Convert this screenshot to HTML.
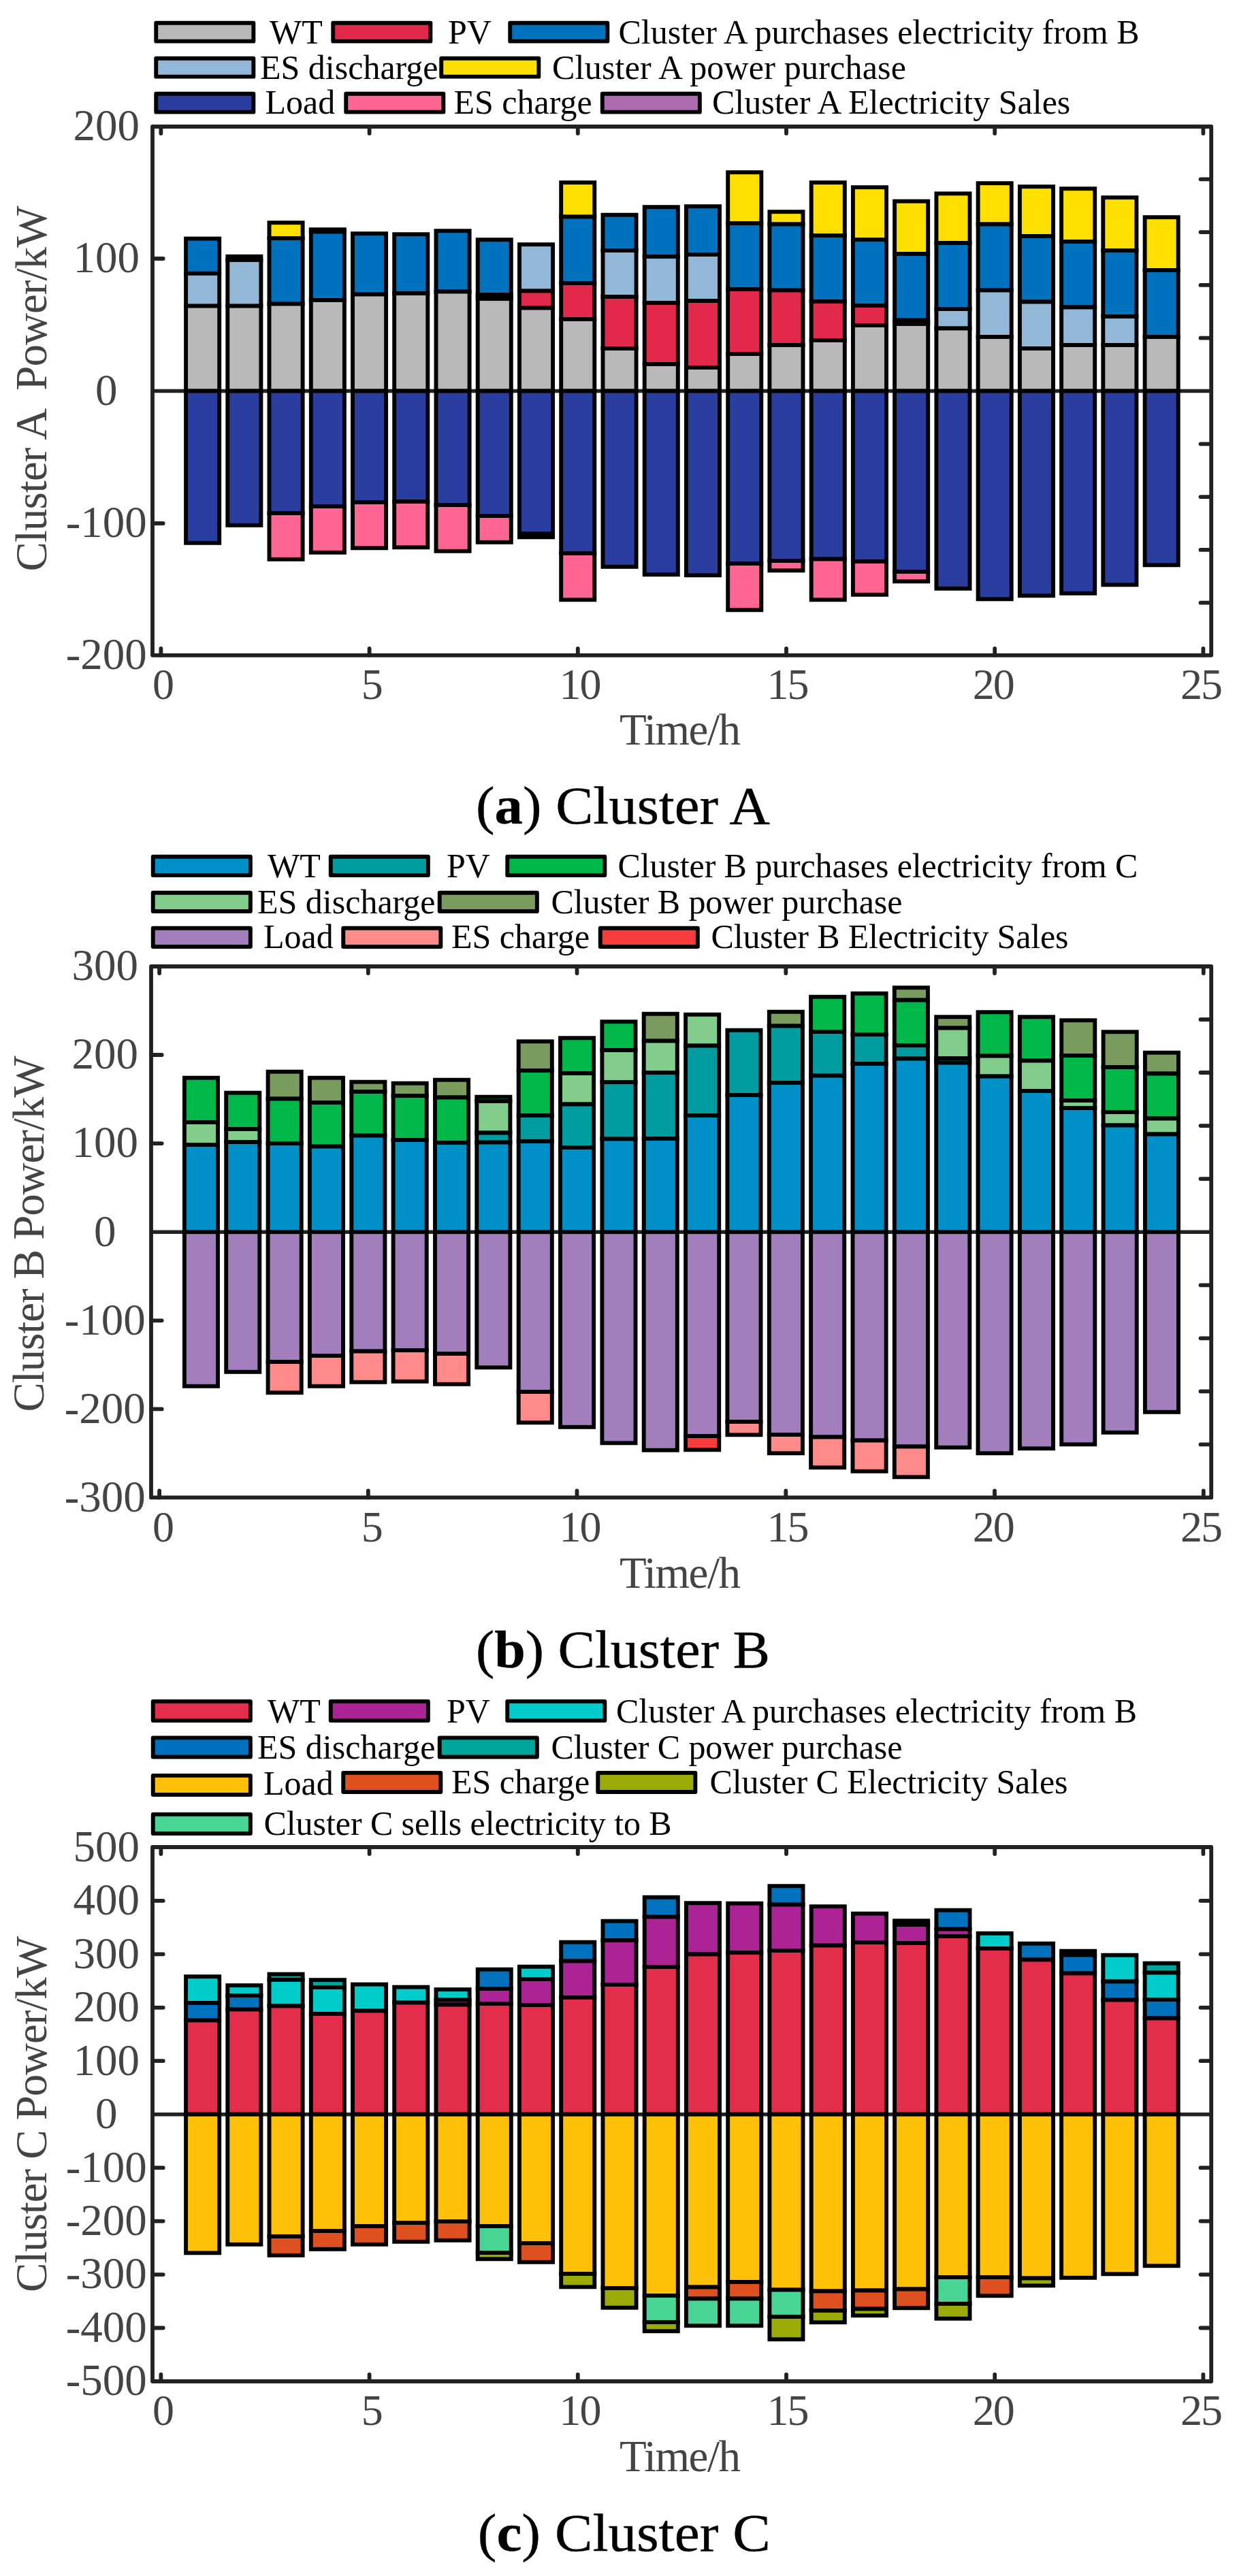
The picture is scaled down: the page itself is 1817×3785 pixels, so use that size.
<!DOCTYPE html>
<html><head><meta charset="utf-8"><title>Cluster power balance</title>
<style>html,body{margin:0;padding:0;background:#fff}svg{display:block}</style></head>
<body>
<svg width="1817" height="3785" viewBox="0 0 1817 3785" font-family="'Liberation Serif', 'Times New Roman', serif">
<rect width="1817" height="3785" fill="#fff"/>
<line x1="224" y1="574.5" x2="1779.2" y2="574.5" stroke="#222222" stroke-width="5.6"/>
<rect x="273.1" y="350.6" width="49.1" height="51.2" fill="#0072BD" stroke="#000" stroke-width="5.9"/>
<rect x="273.1" y="401.8" width="49.1" height="47.8" fill="#93B7D7" stroke="#000" stroke-width="5.9"/>
<rect x="273.1" y="449.6" width="49.1" height="124.9" fill="#B9B9B9" stroke="#000" stroke-width="5.9"/>
<rect x="273.1" y="574.5" width="49.1" height="223.3" fill="#293E9E" stroke="#000" stroke-width="5.9"/>
<rect x="334.3" y="376.8" width="49.1" height="5.2" fill="#0072BD" stroke="#000" stroke-width="5.9"/>
<rect x="334.3" y="382.0" width="49.1" height="67.6" fill="#93B7D7" stroke="#000" stroke-width="5.9"/>
<rect x="334.3" y="449.6" width="49.1" height="124.9" fill="#B9B9B9" stroke="#000" stroke-width="5.9"/>
<rect x="334.3" y="574.5" width="49.1" height="197.3" fill="#293E9E" stroke="#000" stroke-width="5.9"/>
<rect x="395.5" y="327.2" width="49.1" height="22.8" fill="#FFDF00" stroke="#000" stroke-width="5.9"/>
<rect x="395.5" y="350.0" width="49.1" height="96.5" fill="#0072BD" stroke="#000" stroke-width="5.9"/>
<rect x="395.5" y="446.5" width="49.1" height="128.0" fill="#B9B9B9" stroke="#000" stroke-width="5.9"/>
<rect x="395.5" y="574.5" width="49.1" height="179.5" fill="#293E9E" stroke="#000" stroke-width="5.9"/>
<rect x="395.5" y="754.0" width="49.1" height="67.8" fill="#FF6694" stroke="#000" stroke-width="5.9"/>
<rect x="456.8" y="337.2" width="49.1" height="3.3" fill="#FFDF00" stroke="#000" stroke-width="5.9"/>
<rect x="456.8" y="340.5" width="49.1" height="100.5" fill="#0072BD" stroke="#000" stroke-width="5.9"/>
<rect x="456.8" y="441.0" width="49.1" height="133.5" fill="#B9B9B9" stroke="#000" stroke-width="5.9"/>
<rect x="456.8" y="574.5" width="49.1" height="169.5" fill="#293E9E" stroke="#000" stroke-width="5.9"/>
<rect x="456.8" y="744.0" width="49.1" height="67.8" fill="#FF6694" stroke="#000" stroke-width="5.9"/>
<rect x="518.0" y="343.2" width="49.1" height="89.3" fill="#0072BD" stroke="#000" stroke-width="5.9"/>
<rect x="518.0" y="432.5" width="49.1" height="142.0" fill="#B9B9B9" stroke="#000" stroke-width="5.9"/>
<rect x="518.0" y="574.5" width="49.1" height="163.5" fill="#293E9E" stroke="#000" stroke-width="5.9"/>
<rect x="518.0" y="738.0" width="49.1" height="67.3" fill="#FF6694" stroke="#000" stroke-width="5.9"/>
<rect x="579.2" y="344.2" width="49.1" height="86.8" fill="#0072BD" stroke="#000" stroke-width="5.9"/>
<rect x="579.2" y="431.0" width="49.1" height="143.5" fill="#B9B9B9" stroke="#000" stroke-width="5.9"/>
<rect x="579.2" y="574.5" width="49.1" height="162.5" fill="#293E9E" stroke="#000" stroke-width="5.9"/>
<rect x="579.2" y="737.0" width="49.1" height="67.3" fill="#FF6694" stroke="#000" stroke-width="5.9"/>
<rect x="640.5" y="339.2" width="49.1" height="89.3" fill="#0072BD" stroke="#000" stroke-width="5.9"/>
<rect x="640.5" y="428.5" width="49.1" height="146.0" fill="#B9B9B9" stroke="#000" stroke-width="5.9"/>
<rect x="640.5" y="574.5" width="49.1" height="167.5" fill="#293E9E" stroke="#000" stroke-width="5.9"/>
<rect x="640.5" y="742.0" width="49.1" height="67.8" fill="#FF6694" stroke="#000" stroke-width="5.9"/>
<rect x="701.7" y="352.2" width="49.1" height="80.8" fill="#0072BD" stroke="#000" stroke-width="5.9"/>
<rect x="701.7" y="433.0" width="49.1" height="6.0" fill="#E2294B" stroke="#000" stroke-width="5.9"/>
<rect x="701.7" y="439.0" width="49.1" height="135.5" fill="#B9B9B9" stroke="#000" stroke-width="5.9"/>
<rect x="701.7" y="574.5" width="49.1" height="183.5" fill="#293E9E" stroke="#000" stroke-width="5.9"/>
<rect x="701.7" y="758.0" width="49.1" height="38.8" fill="#FF6694" stroke="#000" stroke-width="5.9"/>
<rect x="763.0" y="359.2" width="49.1" height="68.3" fill="#93B7D7" stroke="#000" stroke-width="5.9"/>
<rect x="763.0" y="427.5" width="49.1" height="25.0" fill="#E2294B" stroke="#000" stroke-width="5.9"/>
<rect x="763.0" y="452.5" width="49.1" height="122.0" fill="#B9B9B9" stroke="#000" stroke-width="5.9"/>
<rect x="763.0" y="574.5" width="49.1" height="209.5" fill="#293E9E" stroke="#000" stroke-width="5.9"/>
<rect x="763.0" y="784.0" width="49.1" height="5.3" fill="#FF6694" stroke="#000" stroke-width="5.9"/>
<rect x="824.2" y="268.2" width="49.1" height="50.3" fill="#FFDF00" stroke="#000" stroke-width="5.9"/>
<rect x="824.2" y="318.5" width="49.1" height="97.5" fill="#0072BD" stroke="#000" stroke-width="5.9"/>
<rect x="824.2" y="416.0" width="49.1" height="53.0" fill="#E2294B" stroke="#000" stroke-width="5.9"/>
<rect x="824.2" y="469.0" width="49.1" height="105.5" fill="#B9B9B9" stroke="#000" stroke-width="5.9"/>
<rect x="824.2" y="574.5" width="49.1" height="238.5" fill="#293E9E" stroke="#000" stroke-width="5.9"/>
<rect x="824.2" y="813.0" width="49.1" height="68.3" fill="#FF6694" stroke="#000" stroke-width="5.9"/>
<rect x="885.5" y="315.7" width="49.1" height="52.3" fill="#0072BD" stroke="#000" stroke-width="5.9"/>
<rect x="885.5" y="368.0" width="49.1" height="68.0" fill="#93B7D7" stroke="#000" stroke-width="5.9"/>
<rect x="885.5" y="436.0" width="49.1" height="76.0" fill="#E2294B" stroke="#000" stroke-width="5.9"/>
<rect x="885.5" y="512.0" width="49.1" height="62.5" fill="#B9B9B9" stroke="#000" stroke-width="5.9"/>
<rect x="885.5" y="574.5" width="49.1" height="258.3" fill="#293E9E" stroke="#000" stroke-width="5.9"/>
<rect x="946.7" y="304.2" width="49.1" height="72.8" fill="#0072BD" stroke="#000" stroke-width="5.9"/>
<rect x="946.7" y="377.0" width="49.1" height="68.0" fill="#93B7D7" stroke="#000" stroke-width="5.9"/>
<rect x="946.7" y="445.0" width="49.1" height="90.0" fill="#E2294B" stroke="#000" stroke-width="5.9"/>
<rect x="946.7" y="535.0" width="49.1" height="39.5" fill="#B9B9B9" stroke="#000" stroke-width="5.9"/>
<rect x="946.7" y="574.5" width="49.1" height="269.8" fill="#293E9E" stroke="#000" stroke-width="5.9"/>
<rect x="1007.9" y="303.2" width="49.1" height="70.8" fill="#0072BD" stroke="#000" stroke-width="5.9"/>
<rect x="1007.9" y="374.0" width="49.1" height="68.0" fill="#93B7D7" stroke="#000" stroke-width="5.9"/>
<rect x="1007.9" y="442.0" width="49.1" height="98.0" fill="#E2294B" stroke="#000" stroke-width="5.9"/>
<rect x="1007.9" y="540.0" width="49.1" height="34.5" fill="#B9B9B9" stroke="#000" stroke-width="5.9"/>
<rect x="1007.9" y="574.5" width="49.1" height="270.8" fill="#293E9E" stroke="#000" stroke-width="5.9"/>
<rect x="1069.2" y="253.2" width="49.1" height="74.8" fill="#FFDF00" stroke="#000" stroke-width="5.9"/>
<rect x="1069.2" y="328.0" width="49.1" height="97.0" fill="#0072BD" stroke="#000" stroke-width="5.9"/>
<rect x="1069.2" y="425.0" width="49.1" height="95.0" fill="#E2294B" stroke="#000" stroke-width="5.9"/>
<rect x="1069.2" y="520.0" width="49.1" height="54.5" fill="#B9B9B9" stroke="#000" stroke-width="5.9"/>
<rect x="1069.2" y="574.5" width="49.1" height="253.5" fill="#293E9E" stroke="#000" stroke-width="5.9"/>
<rect x="1069.2" y="828.0" width="49.1" height="68.3" fill="#FF6694" stroke="#000" stroke-width="5.9"/>
<rect x="1130.4" y="311.2" width="49.1" height="18.3" fill="#FFDF00" stroke="#000" stroke-width="5.9"/>
<rect x="1130.4" y="329.5" width="49.1" height="97.0" fill="#0072BD" stroke="#000" stroke-width="5.9"/>
<rect x="1130.4" y="426.5" width="49.1" height="80.5" fill="#E2294B" stroke="#000" stroke-width="5.9"/>
<rect x="1130.4" y="507.0" width="49.1" height="67.5" fill="#B9B9B9" stroke="#000" stroke-width="5.9"/>
<rect x="1130.4" y="574.5" width="49.1" height="249.5" fill="#293E9E" stroke="#000" stroke-width="5.9"/>
<rect x="1130.4" y="824.0" width="49.1" height="14.3" fill="#FF6694" stroke="#000" stroke-width="5.9"/>
<rect x="1191.7" y="268.2" width="49.1" height="77.8" fill="#FFDF00" stroke="#000" stroke-width="5.9"/>
<rect x="1191.7" y="346.0" width="49.1" height="97.0" fill="#0072BD" stroke="#000" stroke-width="5.9"/>
<rect x="1191.7" y="443.0" width="49.1" height="57.0" fill="#E2294B" stroke="#000" stroke-width="5.9"/>
<rect x="1191.7" y="500.0" width="49.1" height="74.5" fill="#B9B9B9" stroke="#000" stroke-width="5.9"/>
<rect x="1191.7" y="574.5" width="49.1" height="247.0" fill="#293E9E" stroke="#000" stroke-width="5.9"/>
<rect x="1191.7" y="821.5" width="49.1" height="59.8" fill="#FF6694" stroke="#000" stroke-width="5.9"/>
<rect x="1252.9" y="275.2" width="49.1" height="76.8" fill="#FFDF00" stroke="#000" stroke-width="5.9"/>
<rect x="1252.9" y="352.0" width="49.1" height="97.0" fill="#0072BD" stroke="#000" stroke-width="5.9"/>
<rect x="1252.9" y="449.0" width="49.1" height="29.0" fill="#E2294B" stroke="#000" stroke-width="5.9"/>
<rect x="1252.9" y="478.0" width="49.1" height="96.5" fill="#B9B9B9" stroke="#000" stroke-width="5.9"/>
<rect x="1252.9" y="574.5" width="49.1" height="250.5" fill="#293E9E" stroke="#000" stroke-width="5.9"/>
<rect x="1252.9" y="825.0" width="49.1" height="48.8" fill="#FF6694" stroke="#000" stroke-width="5.9"/>
<rect x="1314.1" y="295.7" width="49.1" height="77.3" fill="#FFDF00" stroke="#000" stroke-width="5.9"/>
<rect x="1314.1" y="373.0" width="49.1" height="97.5" fill="#0072BD" stroke="#000" stroke-width="5.9"/>
<rect x="1314.1" y="470.5" width="49.1" height="5.5" fill="#E2294B" stroke="#000" stroke-width="5.9"/>
<rect x="1314.1" y="476.0" width="49.1" height="98.5" fill="#B9B9B9" stroke="#000" stroke-width="5.9"/>
<rect x="1314.1" y="574.5" width="49.1" height="265.5" fill="#293E9E" stroke="#000" stroke-width="5.9"/>
<rect x="1314.1" y="840.0" width="49.1" height="14.3" fill="#FF6694" stroke="#000" stroke-width="5.9"/>
<rect x="1375.4" y="284.4" width="49.1" height="72.6" fill="#FFDF00" stroke="#000" stroke-width="5.9"/>
<rect x="1375.4" y="357.0" width="49.1" height="97.0" fill="#0072BD" stroke="#000" stroke-width="5.9"/>
<rect x="1375.4" y="454.0" width="49.1" height="28.5" fill="#93B7D7" stroke="#000" stroke-width="5.9"/>
<rect x="1375.4" y="482.5" width="49.1" height="92.0" fill="#B9B9B9" stroke="#000" stroke-width="5.9"/>
<rect x="1375.4" y="574.5" width="49.1" height="290.3" fill="#293E9E" stroke="#000" stroke-width="5.9"/>
<rect x="1436.6" y="269.2" width="49.1" height="60.3" fill="#FFDF00" stroke="#000" stroke-width="5.9"/>
<rect x="1436.6" y="329.5" width="49.1" height="97.0" fill="#0072BD" stroke="#000" stroke-width="5.9"/>
<rect x="1436.6" y="426.5" width="49.1" height="68.5" fill="#93B7D7" stroke="#000" stroke-width="5.9"/>
<rect x="1436.6" y="495.0" width="49.1" height="79.5" fill="#B9B9B9" stroke="#000" stroke-width="5.9"/>
<rect x="1436.6" y="574.5" width="49.1" height="305.8" fill="#293E9E" stroke="#000" stroke-width="5.9"/>
<rect x="1497.9" y="274.2" width="49.1" height="72.8" fill="#FFDF00" stroke="#000" stroke-width="5.9"/>
<rect x="1497.9" y="347.0" width="49.1" height="96.5" fill="#0072BD" stroke="#000" stroke-width="5.9"/>
<rect x="1497.9" y="443.5" width="49.1" height="68.5" fill="#93B7D7" stroke="#000" stroke-width="5.9"/>
<rect x="1497.9" y="512.0" width="49.1" height="62.5" fill="#B9B9B9" stroke="#000" stroke-width="5.9"/>
<rect x="1497.9" y="574.5" width="49.1" height="300.8" fill="#293E9E" stroke="#000" stroke-width="5.9"/>
<rect x="1559.1" y="277.2" width="49.1" height="77.8" fill="#FFDF00" stroke="#000" stroke-width="5.9"/>
<rect x="1559.1" y="355.0" width="49.1" height="96.5" fill="#0072BD" stroke="#000" stroke-width="5.9"/>
<rect x="1559.1" y="451.5" width="49.1" height="55.5" fill="#93B7D7" stroke="#000" stroke-width="5.9"/>
<rect x="1559.1" y="507.0" width="49.1" height="67.5" fill="#B9B9B9" stroke="#000" stroke-width="5.9"/>
<rect x="1559.1" y="574.5" width="49.1" height="297.3" fill="#293E9E" stroke="#000" stroke-width="5.9"/>
<rect x="1620.3" y="290.2" width="49.1" height="77.8" fill="#FFDF00" stroke="#000" stroke-width="5.9"/>
<rect x="1620.3" y="368.0" width="49.1" height="97.0" fill="#0072BD" stroke="#000" stroke-width="5.9"/>
<rect x="1620.3" y="465.0" width="49.1" height="42.0" fill="#93B7D7" stroke="#000" stroke-width="5.9"/>
<rect x="1620.3" y="507.0" width="49.1" height="67.5" fill="#B9B9B9" stroke="#000" stroke-width="5.9"/>
<rect x="1620.3" y="574.5" width="49.1" height="284.8" fill="#293E9E" stroke="#000" stroke-width="5.9"/>
<rect x="1681.6" y="319.2" width="49.1" height="77.8" fill="#FFDF00" stroke="#000" stroke-width="5.9"/>
<rect x="1681.6" y="397.0" width="49.1" height="98.0" fill="#0072BD" stroke="#000" stroke-width="5.9"/>
<rect x="1681.6" y="495.0" width="49.1" height="79.5" fill="#B9B9B9" stroke="#000" stroke-width="5.9"/>
<rect x="1681.6" y="574.5" width="49.1" height="255.8" fill="#293E9E" stroke="#000" stroke-width="5.9"/>
<rect x="224" y="186" width="1555.2" height="776.8" fill="none" stroke="#222222" stroke-width="5.8" stroke-linejoin="round"/>
<path d="M236.4 186v10M236.4 962.8v-10M542.6 186v10M542.6 962.8v-10M848.8 186v10M848.8 962.8v-10M1155.0 186v10M1155.0 962.8v-10M1461.2 186v10M1461.2 962.8v-10M1767.4 186v10M1767.4 962.8v-10M224 380.0h15.7M224 769.0h15.7M1779.2 263.3h-15.7M1779.2 341.1h-15.7M1779.2 418.9h-15.7M1779.2 496.7h-15.7M1779.2 652.3h-15.7M1779.2 730.1h-15.7M1779.2 807.9h-15.7M1779.2 885.7h-15.7" stroke="#222222" stroke-width="5.8" stroke-linecap="round" fill="none"/>
<rect x="229.25" y="33.75" width="143.10" height="26.90" fill="#B9B9B9" stroke="#000" stroke-width="5.9" stroke-linejoin="round"/>
<rect x="489.25" y="33.75" width="143.10" height="26.90" fill="#E2294B" stroke="#000" stroke-width="5.9" stroke-linejoin="round"/>
<rect x="749.25" y="33.75" width="143.10" height="26.90" fill="#0072BD" stroke="#000" stroke-width="5.9" stroke-linejoin="round"/>
<rect x="229.25" y="85.75" width="143.10" height="26.90" fill="#93B7D7" stroke="#000" stroke-width="5.9" stroke-linejoin="round"/>
<rect x="648.25" y="85.75" width="143.10" height="26.90" fill="#FFDF00" stroke="#000" stroke-width="5.9" stroke-linejoin="round"/>
<rect x="229.25" y="137.75" width="143.10" height="26.90" fill="#293E9E" stroke="#000" stroke-width="5.9" stroke-linejoin="round"/>
<rect x="508.25" y="137.75" width="143.10" height="26.90" fill="#FF6694" stroke="#000" stroke-width="5.9" stroke-linejoin="round"/>
<rect x="884.75" y="137.75" width="143.10" height="26.90" fill="#AE6AAE" stroke="#000" stroke-width="5.9" stroke-linejoin="round"/>
<text x="396.0" y="64.0" font-size="50" fill="#000" text-anchor="start">WT</text>
<text x="658.0" y="64.0" font-size="50" fill="#000" text-anchor="start">PV</text>
<text x="908.5" y="64.0" font-size="50" fill="#000" text-anchor="start">Cluster A purchases electricity from B</text>
<text x="382.0" y="116.0" font-size="50" fill="#000" text-anchor="start">ES discharge</text>
<text x="811.0" y="116.0" font-size="50" fill="#000" text-anchor="start" textLength="520.0" lengthAdjust="spacing">Cluster A power purchase</text>
<text x="389.4" y="167.0" font-size="50" fill="#000" text-anchor="start">Load</text>
<text x="666.5" y="167.0" font-size="50" fill="#000" text-anchor="start">ES charge</text>
<text x="1046.0" y="167.0" font-size="50" fill="#000" text-anchor="start">Cluster A Electricity Sales</text>
<text x="156.3" y="206.3" font-size="65" fill="#444444" text-anchor="middle">200</text>
<text x="156.3" y="400.3" font-size="65" fill="#444444" text-anchor="middle">100</text>
<text x="156.3" y="594.8" font-size="65" fill="#444444" text-anchor="middle">0</text>
<text x="156.3" y="789.3" font-size="65" fill="#444444" text-anchor="middle">-100</text>
<text x="156.3" y="983.3" font-size="65" fill="#444444" text-anchor="middle">-200</text>
<text x="240.0" y="1026.5" font-size="64" fill="#444444" text-anchor="middle">0</text>
<text x="546.8" y="1026.5" font-size="64" fill="#444444" text-anchor="middle">5</text>
<text x="852.4" y="1026.5" font-size="64" fill="#444444" text-anchor="middle" textLength="62.0" lengthAdjust="spacing">10</text>
<text x="1157.6" y="1026.5" font-size="64" fill="#444444" text-anchor="middle" textLength="62.0" lengthAdjust="spacing">15</text>
<text x="1459.8" y="1026.5" font-size="64" fill="#444444" text-anchor="middle" textLength="62.0" lengthAdjust="spacing">20</text>
<text x="1765.0" y="1026.5" font-size="64" fill="#444444" text-anchor="middle" textLength="62.0" lengthAdjust="spacing">25</text>
<text x="999.0" y="1094.0" font-size="65" fill="#444444" text-anchor="middle" textLength="178.0" lengthAdjust="spacing">Time/h</text>
<text transform="translate(67.7,571) rotate(-90)" font-size="65" fill="#444444" text-anchor="middle" textLength="537" lengthAdjust="spacing" xml:space="preserve">Cluster A  Power/kW</text>
<text x="915" y="1210" font-size="79" fill="#000" stroke="#000" stroke-width="0.4" text-anchor="middle" textLength="432" lengthAdjust="spacingAndGlyphs">(<tspan font-weight="bold">a</tspan>) Cluster A</text>
<line x1="222" y1="1810.2" x2="1779.2" y2="1810.2" stroke="#222222" stroke-width="5.6"/>
<rect x="270.9" y="1583.7" width="49.1" height="65.3" fill="#00B74A" stroke="#000" stroke-width="5.9"/>
<rect x="270.9" y="1649.0" width="49.1" height="33.0" fill="#82CD8C" stroke="#000" stroke-width="5.9"/>
<rect x="270.9" y="1682.0" width="49.1" height="128.2" fill="#0090C8" stroke="#000" stroke-width="5.9"/>
<rect x="270.9" y="1810.2" width="49.1" height="226.6" fill="#A37EBD" stroke="#000" stroke-width="5.9"/>
<rect x="332.2" y="1605.7" width="49.1" height="53.3" fill="#00B74A" stroke="#000" stroke-width="5.9"/>
<rect x="332.2" y="1659.0" width="49.1" height="19.0" fill="#82CD8C" stroke="#000" stroke-width="5.9"/>
<rect x="332.2" y="1678.0" width="49.1" height="132.2" fill="#0090C8" stroke="#000" stroke-width="5.9"/>
<rect x="332.2" y="1810.2" width="49.1" height="205.6" fill="#A37EBD" stroke="#000" stroke-width="5.9"/>
<rect x="393.6" y="1574.7" width="49.1" height="39.8" fill="#7A9B5E" stroke="#000" stroke-width="5.9"/>
<rect x="393.6" y="1614.5" width="49.1" height="65.5" fill="#00B74A" stroke="#000" stroke-width="5.9"/>
<rect x="393.6" y="1680.0" width="49.1" height="130.2" fill="#0090C8" stroke="#000" stroke-width="5.9"/>
<rect x="393.6" y="1810.2" width="49.1" height="190.8" fill="#A37EBD" stroke="#000" stroke-width="5.9"/>
<rect x="393.6" y="2001.0" width="49.1" height="45.3" fill="#FF8A8A" stroke="#000" stroke-width="5.9"/>
<rect x="454.9" y="1583.7" width="49.1" height="36.3" fill="#7A9B5E" stroke="#000" stroke-width="5.9"/>
<rect x="454.9" y="1620.0" width="49.1" height="64.5" fill="#00B74A" stroke="#000" stroke-width="5.9"/>
<rect x="454.9" y="1684.5" width="49.1" height="125.7" fill="#0090C8" stroke="#000" stroke-width="5.9"/>
<rect x="454.9" y="1810.2" width="49.1" height="181.8" fill="#A37EBD" stroke="#000" stroke-width="5.9"/>
<rect x="454.9" y="1992.0" width="49.1" height="44.8" fill="#FF8A8A" stroke="#000" stroke-width="5.9"/>
<rect x="516.3" y="1589.7" width="49.1" height="14.3" fill="#7A9B5E" stroke="#000" stroke-width="5.9"/>
<rect x="516.3" y="1604.0" width="49.1" height="64.5" fill="#00B74A" stroke="#000" stroke-width="5.9"/>
<rect x="516.3" y="1668.5" width="49.1" height="141.7" fill="#0090C8" stroke="#000" stroke-width="5.9"/>
<rect x="516.3" y="1810.2" width="49.1" height="175.3" fill="#A37EBD" stroke="#000" stroke-width="5.9"/>
<rect x="516.3" y="1985.5" width="49.1" height="45.3" fill="#FF8A8A" stroke="#000" stroke-width="5.9"/>
<rect x="577.6" y="1591.7" width="49.1" height="18.3" fill="#7A9B5E" stroke="#000" stroke-width="5.9"/>
<rect x="577.6" y="1610.0" width="49.1" height="65.0" fill="#00B74A" stroke="#000" stroke-width="5.9"/>
<rect x="577.6" y="1675.0" width="49.1" height="135.2" fill="#0090C8" stroke="#000" stroke-width="5.9"/>
<rect x="577.6" y="1810.2" width="49.1" height="173.8" fill="#A37EBD" stroke="#000" stroke-width="5.9"/>
<rect x="577.6" y="1984.0" width="49.1" height="45.8" fill="#FF8A8A" stroke="#000" stroke-width="5.9"/>
<rect x="639.0" y="1586.7" width="49.1" height="25.8" fill="#7A9B5E" stroke="#000" stroke-width="5.9"/>
<rect x="639.0" y="1612.5" width="49.1" height="66.5" fill="#00B74A" stroke="#000" stroke-width="5.9"/>
<rect x="639.0" y="1679.0" width="49.1" height="131.2" fill="#0090C8" stroke="#000" stroke-width="5.9"/>
<rect x="639.0" y="1810.2" width="49.1" height="178.8" fill="#A37EBD" stroke="#000" stroke-width="5.9"/>
<rect x="639.0" y="1989.0" width="49.1" height="44.8" fill="#FF8A8A" stroke="#000" stroke-width="5.9"/>
<rect x="700.3" y="1611.7" width="49.1" height="6.3" fill="#00B74A" stroke="#000" stroke-width="5.9"/>
<rect x="700.3" y="1618.0" width="49.1" height="46.5" fill="#82CD8C" stroke="#000" stroke-width="5.9"/>
<rect x="700.3" y="1664.5" width="49.1" height="14.0" fill="#009CA0" stroke="#000" stroke-width="5.9"/>
<rect x="700.3" y="1678.5" width="49.1" height="131.7" fill="#0090C8" stroke="#000" stroke-width="5.9"/>
<rect x="700.3" y="1810.2" width="49.1" height="199.1" fill="#A37EBD" stroke="#000" stroke-width="5.9"/>
<rect x="761.7" y="1530.2" width="49.1" height="42.8" fill="#7A9B5E" stroke="#000" stroke-width="5.9"/>
<rect x="761.7" y="1573.0" width="49.1" height="66.0" fill="#00B74A" stroke="#000" stroke-width="5.9"/>
<rect x="761.7" y="1639.0" width="49.1" height="38.0" fill="#009CA0" stroke="#000" stroke-width="5.9"/>
<rect x="761.7" y="1677.0" width="49.1" height="133.2" fill="#0090C8" stroke="#000" stroke-width="5.9"/>
<rect x="761.7" y="1810.2" width="49.1" height="234.8" fill="#A37EBD" stroke="#000" stroke-width="5.9"/>
<rect x="761.7" y="2045.0" width="49.1" height="45.3" fill="#FF8A8A" stroke="#000" stroke-width="5.9"/>
<rect x="823.0" y="1525.2" width="49.1" height="51.8" fill="#00B74A" stroke="#000" stroke-width="5.9"/>
<rect x="823.0" y="1577.0" width="49.1" height="45.5" fill="#82CD8C" stroke="#000" stroke-width="5.9"/>
<rect x="823.0" y="1622.5" width="49.1" height="63.5" fill="#009CA0" stroke="#000" stroke-width="5.9"/>
<rect x="823.0" y="1686.0" width="49.1" height="124.2" fill="#0090C8" stroke="#000" stroke-width="5.9"/>
<rect x="823.0" y="1810.2" width="49.1" height="286.6" fill="#A37EBD" stroke="#000" stroke-width="5.9"/>
<rect x="884.4" y="1501.2" width="49.1" height="41.8" fill="#00B74A" stroke="#000" stroke-width="5.9"/>
<rect x="884.4" y="1543.0" width="49.1" height="47.0" fill="#82CD8C" stroke="#000" stroke-width="5.9"/>
<rect x="884.4" y="1590.0" width="49.1" height="83.5" fill="#009CA0" stroke="#000" stroke-width="5.9"/>
<rect x="884.4" y="1673.5" width="49.1" height="136.7" fill="#0090C8" stroke="#000" stroke-width="5.9"/>
<rect x="884.4" y="1810.2" width="49.1" height="310.1" fill="#A37EBD" stroke="#000" stroke-width="5.9"/>
<rect x="945.7" y="1489.7" width="49.1" height="39.8" fill="#7A9B5E" stroke="#000" stroke-width="5.9"/>
<rect x="945.7" y="1529.5" width="49.1" height="46.5" fill="#82CD8C" stroke="#000" stroke-width="5.9"/>
<rect x="945.7" y="1576.0" width="49.1" height="97.0" fill="#009CA0" stroke="#000" stroke-width="5.9"/>
<rect x="945.7" y="1673.0" width="49.1" height="137.2" fill="#0090C8" stroke="#000" stroke-width="5.9"/>
<rect x="945.7" y="1810.2" width="49.1" height="320.6" fill="#A37EBD" stroke="#000" stroke-width="5.9"/>
<rect x="1007.1" y="1490.7" width="49.1" height="45.8" fill="#82CD8C" stroke="#000" stroke-width="5.9"/>
<rect x="1007.1" y="1536.5" width="49.1" height="102.5" fill="#009CA0" stroke="#000" stroke-width="5.9"/>
<rect x="1007.1" y="1639.0" width="49.1" height="171.2" fill="#0090C8" stroke="#000" stroke-width="5.9"/>
<rect x="1007.1" y="1810.2" width="49.1" height="299.8" fill="#A37EBD" stroke="#000" stroke-width="5.9"/>
<rect x="1007.1" y="2110.0" width="49.1" height="20.3" fill="#F83C3C" stroke="#000" stroke-width="5.9"/>
<rect x="1068.4" y="1513.7" width="49.1" height="95.3" fill="#009CA0" stroke="#000" stroke-width="5.9"/>
<rect x="1068.4" y="1609.0" width="49.1" height="201.2" fill="#0090C8" stroke="#000" stroke-width="5.9"/>
<rect x="1068.4" y="1810.2" width="49.1" height="278.8" fill="#A37EBD" stroke="#000" stroke-width="5.9"/>
<rect x="1068.4" y="2089.0" width="49.1" height="19.3" fill="#FF8A8A" stroke="#000" stroke-width="5.9"/>
<rect x="1129.8" y="1486.7" width="49.1" height="20.8" fill="#7A9B5E" stroke="#000" stroke-width="5.9"/>
<rect x="1129.8" y="1507.5" width="49.1" height="83.5" fill="#009CA0" stroke="#000" stroke-width="5.9"/>
<rect x="1129.8" y="1591.0" width="49.1" height="219.2" fill="#0090C8" stroke="#000" stroke-width="5.9"/>
<rect x="1129.8" y="1810.2" width="49.1" height="297.8" fill="#A37EBD" stroke="#000" stroke-width="5.9"/>
<rect x="1129.8" y="2108.0" width="49.1" height="27.3" fill="#FF8A8A" stroke="#000" stroke-width="5.9"/>
<rect x="1191.1" y="1464.7" width="49.1" height="51.3" fill="#00B74A" stroke="#000" stroke-width="5.9"/>
<rect x="1191.1" y="1516.0" width="49.1" height="64.5" fill="#009CA0" stroke="#000" stroke-width="5.9"/>
<rect x="1191.1" y="1580.5" width="49.1" height="229.7" fill="#0090C8" stroke="#000" stroke-width="5.9"/>
<rect x="1191.1" y="1810.2" width="49.1" height="301.3" fill="#A37EBD" stroke="#000" stroke-width="5.9"/>
<rect x="1191.1" y="2111.5" width="49.1" height="44.8" fill="#FF8A8A" stroke="#000" stroke-width="5.9"/>
<rect x="1252.5" y="1459.7" width="49.1" height="60.3" fill="#00B74A" stroke="#000" stroke-width="5.9"/>
<rect x="1252.5" y="1520.0" width="49.1" height="43.0" fill="#009CA0" stroke="#000" stroke-width="5.9"/>
<rect x="1252.5" y="1563.0" width="49.1" height="247.2" fill="#0090C8" stroke="#000" stroke-width="5.9"/>
<rect x="1252.5" y="1810.2" width="49.1" height="306.3" fill="#A37EBD" stroke="#000" stroke-width="5.9"/>
<rect x="1252.5" y="2116.5" width="49.1" height="45.3" fill="#FF8A8A" stroke="#000" stroke-width="5.9"/>
<rect x="1313.8" y="1451.2" width="49.1" height="18.3" fill="#7A9B5E" stroke="#000" stroke-width="5.9"/>
<rect x="1313.8" y="1469.5" width="49.1" height="66.5" fill="#00B74A" stroke="#000" stroke-width="5.9"/>
<rect x="1313.8" y="1536.0" width="49.1" height="19.5" fill="#009CA0" stroke="#000" stroke-width="5.9"/>
<rect x="1313.8" y="1555.5" width="49.1" height="254.7" fill="#0090C8" stroke="#000" stroke-width="5.9"/>
<rect x="1313.8" y="1810.2" width="49.1" height="315.3" fill="#A37EBD" stroke="#000" stroke-width="5.9"/>
<rect x="1313.8" y="2125.5" width="49.1" height="44.8" fill="#FF8A8A" stroke="#000" stroke-width="5.9"/>
<rect x="1375.2" y="1494.2" width="49.1" height="16.3" fill="#7A9B5E" stroke="#000" stroke-width="5.9"/>
<rect x="1375.2" y="1510.5" width="49.1" height="44.5" fill="#82CD8C" stroke="#000" stroke-width="5.9"/>
<rect x="1375.2" y="1555.0" width="49.1" height="6.5" fill="#009CA0" stroke="#000" stroke-width="5.9"/>
<rect x="1375.2" y="1561.5" width="49.1" height="248.7" fill="#0090C8" stroke="#000" stroke-width="5.9"/>
<rect x="1375.2" y="1810.2" width="49.1" height="316.6" fill="#A37EBD" stroke="#000" stroke-width="5.9"/>
<rect x="1436.5" y="1487.2" width="49.1" height="64.3" fill="#00B74A" stroke="#000" stroke-width="5.9"/>
<rect x="1436.5" y="1551.5" width="49.1" height="30.0" fill="#82CD8C" stroke="#000" stroke-width="5.9"/>
<rect x="1436.5" y="1581.5" width="49.1" height="228.7" fill="#0090C8" stroke="#000" stroke-width="5.9"/>
<rect x="1436.5" y="1810.2" width="49.1" height="325.1" fill="#A37EBD" stroke="#000" stroke-width="5.9"/>
<rect x="1497.9" y="1494.2" width="49.1" height="64.3" fill="#00B74A" stroke="#000" stroke-width="5.9"/>
<rect x="1497.9" y="1558.5" width="49.1" height="44.5" fill="#82CD8C" stroke="#000" stroke-width="5.9"/>
<rect x="1497.9" y="1603.0" width="49.1" height="207.2" fill="#0090C8" stroke="#000" stroke-width="5.9"/>
<rect x="1497.9" y="1810.2" width="49.1" height="318.1" fill="#A37EBD" stroke="#000" stroke-width="5.9"/>
<rect x="1559.2" y="1499.2" width="49.1" height="51.8" fill="#7A9B5E" stroke="#000" stroke-width="5.9"/>
<rect x="1559.2" y="1551.0" width="49.1" height="66.0" fill="#00B74A" stroke="#000" stroke-width="5.9"/>
<rect x="1559.2" y="1617.0" width="49.1" height="11.0" fill="#82CD8C" stroke="#000" stroke-width="5.9"/>
<rect x="1559.2" y="1628.0" width="49.1" height="182.2" fill="#0090C8" stroke="#000" stroke-width="5.9"/>
<rect x="1559.2" y="1810.2" width="49.1" height="312.1" fill="#A37EBD" stroke="#000" stroke-width="5.9"/>
<rect x="1620.6" y="1516.2" width="49.1" height="51.8" fill="#7A9B5E" stroke="#000" stroke-width="5.9"/>
<rect x="1620.6" y="1568.0" width="49.1" height="66.0" fill="#00B74A" stroke="#000" stroke-width="5.9"/>
<rect x="1620.6" y="1634.0" width="49.1" height="19.5" fill="#82CD8C" stroke="#000" stroke-width="5.9"/>
<rect x="1620.6" y="1653.5" width="49.1" height="156.7" fill="#0090C8" stroke="#000" stroke-width="5.9"/>
<rect x="1620.6" y="1810.2" width="49.1" height="294.6" fill="#A37EBD" stroke="#000" stroke-width="5.9"/>
<rect x="1681.9" y="1546.7" width="49.1" height="30.8" fill="#7A9B5E" stroke="#000" stroke-width="5.9"/>
<rect x="1681.9" y="1577.5" width="49.1" height="66.0" fill="#00B74A" stroke="#000" stroke-width="5.9"/>
<rect x="1681.9" y="1643.5" width="49.1" height="23.0" fill="#82CD8C" stroke="#000" stroke-width="5.9"/>
<rect x="1681.9" y="1666.5" width="49.1" height="143.7" fill="#0090C8" stroke="#000" stroke-width="5.9"/>
<rect x="1681.9" y="1810.2" width="49.1" height="264.6" fill="#A37EBD" stroke="#000" stroke-width="5.9"/>
<rect x="222" y="1420" width="1557.2" height="780.4000000000001" fill="none" stroke="#222222" stroke-width="5.8" stroke-linejoin="round"/>
<path d="M234.1 1420v10M234.1 2200.4v-10M540.8 1420v10M540.8 2200.4v-10M847.5 1420v10M847.5 2200.4v-10M1154.3 1420v10M1154.3 2200.4v-10M1461.0 1420v10M1461.0 2200.4v-10M1767.8 1420v10M1767.8 2200.4v-10M222 1550.0h15.7M222 1680.1h15.7M222 1940.3h15.7M222 2070.4h15.7M1779.2 1498.0h-15.7M1779.2 1576.0h-15.7M1779.2 1654.1h-15.7M1779.2 1732.1h-15.7M1779.2 1888.3h-15.7M1779.2 1966.3h-15.7M1779.2 2044.4h-15.7M1779.2 2122.4h-15.7" stroke="#222222" stroke-width="5.8" stroke-linecap="round" fill="none"/>
<rect x="224.75" y="1258.75" width="143.10" height="27.30" fill="#0090C8" stroke="#000" stroke-width="5.9" stroke-linejoin="round"/>
<rect x="485.75" y="1258.75" width="143.10" height="27.30" fill="#009CA0" stroke="#000" stroke-width="5.9" stroke-linejoin="round"/>
<rect x="745.25" y="1258.75" width="143.10" height="27.30" fill="#00B74A" stroke="#000" stroke-width="5.9" stroke-linejoin="round"/>
<rect x="224.75" y="1311.75" width="143.10" height="27.30" fill="#82CD8C" stroke="#000" stroke-width="5.9" stroke-linejoin="round"/>
<rect x="645.75" y="1311.75" width="143.10" height="27.30" fill="#7A9B5E" stroke="#000" stroke-width="5.9" stroke-linejoin="round"/>
<rect x="224.75" y="1363.75" width="143.10" height="27.30" fill="#A37EBD" stroke="#000" stroke-width="5.9" stroke-linejoin="round"/>
<rect x="504.25" y="1363.75" width="143.10" height="27.30" fill="#FF8A8A" stroke="#000" stroke-width="5.9" stroke-linejoin="round"/>
<rect x="881.75" y="1363.75" width="143.10" height="27.30" fill="#F83C3C" stroke="#000" stroke-width="5.9" stroke-linejoin="round"/>
<text x="393.0" y="1289.0" font-size="50" fill="#000" text-anchor="start">WT</text>
<text x="656.0" y="1289.0" font-size="50" fill="#000" text-anchor="start">PV</text>
<text x="907.5" y="1289.0" font-size="50" fill="#000" text-anchor="start" textLength="763.8" lengthAdjust="spacing">Cluster B purchases electricity from C</text>
<text x="378.0" y="1341.5" font-size="50" fill="#000" text-anchor="start">ES discharge</text>
<text x="809.5" y="1341.5" font-size="50" fill="#000" text-anchor="start" textLength="515.9" lengthAdjust="spacing">Cluster B power purchase</text>
<text x="387.0" y="1393.0" font-size="50" fill="#000" text-anchor="start">Load</text>
<text x="663.0" y="1393.0" font-size="50" fill="#000" text-anchor="start">ES charge</text>
<text x="1044.5" y="1393.0" font-size="50" fill="#000" text-anchor="start" textLength="525.0" lengthAdjust="spacing">Cluster B Electricity Sales</text>
<text x="154.3" y="1440.2" font-size="65" fill="#444444" text-anchor="middle">300</text>
<text x="154.3" y="1570.3" font-size="65" fill="#444444" text-anchor="middle">200</text>
<text x="154.3" y="1700.4" font-size="65" fill="#444444" text-anchor="middle">100</text>
<text x="154.3" y="1830.5" font-size="65" fill="#444444" text-anchor="middle">0</text>
<text x="154.3" y="1960.6" font-size="65" fill="#444444" text-anchor="middle">-100</text>
<text x="154.3" y="2090.7" font-size="65" fill="#444444" text-anchor="middle">-200</text>
<text x="154.3" y="2220.8" font-size="65" fill="#444444" text-anchor="middle">-300</text>
<text x="240.0" y="2265.0" font-size="64" fill="#444444" text-anchor="middle">0</text>
<text x="546.8" y="2265.0" font-size="64" fill="#444444" text-anchor="middle">5</text>
<text x="852.4" y="2265.0" font-size="64" fill="#444444" text-anchor="middle" textLength="62.0" lengthAdjust="spacing">10</text>
<text x="1157.6" y="2265.0" font-size="64" fill="#444444" text-anchor="middle" textLength="62.0" lengthAdjust="spacing">15</text>
<text x="1459.8" y="2265.0" font-size="64" fill="#444444" text-anchor="middle" textLength="62.0" lengthAdjust="spacing">20</text>
<text x="1765.0" y="2265.0" font-size="64" fill="#444444" text-anchor="middle" textLength="62.0" lengthAdjust="spacing">25</text>
<text x="999.0" y="2332.5" font-size="65" fill="#444444" text-anchor="middle" textLength="178.0" lengthAdjust="spacing">Time/h</text>
<text transform="translate(64.4,1813) rotate(-90)" font-size="65" fill="#444444" text-anchor="middle" textLength="523" lengthAdjust="spacing" xml:space="preserve">Cluster B Power/kW</text>
<text x="915" y="2450" font-size="79" fill="#000" stroke="#000" stroke-width="0.4" text-anchor="middle" textLength="432" lengthAdjust="spacingAndGlyphs">(<tspan font-weight="bold">b</tspan>) Cluster B</text>
<line x1="224" y1="3106.7" x2="1779.2" y2="3106.7" stroke="#222222" stroke-width="5.6"/>
<rect x="273.1" y="2904.2" width="49.1" height="38.8" fill="#00CCCC" stroke="#000" stroke-width="5.9"/>
<rect x="273.1" y="2943.0" width="49.1" height="25.5" fill="#0072BD" stroke="#000" stroke-width="5.9"/>
<rect x="273.1" y="2968.5" width="49.1" height="138.2" fill="#E22D4B" stroke="#000" stroke-width="5.9"/>
<rect x="273.1" y="3106.7" width="49.1" height="203.6" fill="#FFC107" stroke="#000" stroke-width="5.9"/>
<rect x="334.3" y="2917.2" width="49.1" height="14.8" fill="#00CCCC" stroke="#000" stroke-width="5.9"/>
<rect x="334.3" y="2932.0" width="49.1" height="20.5" fill="#0072BD" stroke="#000" stroke-width="5.9"/>
<rect x="334.3" y="2952.5" width="49.1" height="154.2" fill="#E22D4B" stroke="#000" stroke-width="5.9"/>
<rect x="334.3" y="3106.7" width="49.1" height="191.1" fill="#FFC107" stroke="#000" stroke-width="5.9"/>
<rect x="395.5" y="2900.7" width="49.1" height="8.2" fill="#00A69C" stroke="#000" stroke-width="5.9"/>
<rect x="395.5" y="2908.9" width="49.1" height="38.6" fill="#00CCCC" stroke="#000" stroke-width="5.9"/>
<rect x="395.5" y="2947.5" width="49.1" height="159.2" fill="#E22D4B" stroke="#000" stroke-width="5.9"/>
<rect x="395.5" y="3106.7" width="49.1" height="179.3" fill="#FFC107" stroke="#000" stroke-width="5.9"/>
<rect x="395.5" y="3286.0" width="49.1" height="27.8" fill="#DF5020" stroke="#000" stroke-width="5.9"/>
<rect x="456.8" y="2909.2" width="49.1" height="10.8" fill="#00A69C" stroke="#000" stroke-width="5.9"/>
<rect x="456.8" y="2920.0" width="49.1" height="39.0" fill="#00CCCC" stroke="#000" stroke-width="5.9"/>
<rect x="456.8" y="2959.0" width="49.1" height="147.7" fill="#E22D4B" stroke="#000" stroke-width="5.9"/>
<rect x="456.8" y="3106.7" width="49.1" height="171.3" fill="#FFC107" stroke="#000" stroke-width="5.9"/>
<rect x="456.8" y="3278.0" width="49.1" height="26.8" fill="#DF5020" stroke="#000" stroke-width="5.9"/>
<rect x="518.0" y="2915.7" width="49.1" height="38.8" fill="#00CCCC" stroke="#000" stroke-width="5.9"/>
<rect x="518.0" y="2954.5" width="49.1" height="152.2" fill="#E22D4B" stroke="#000" stroke-width="5.9"/>
<rect x="518.0" y="3106.7" width="49.1" height="164.3" fill="#FFC107" stroke="#000" stroke-width="5.9"/>
<rect x="518.0" y="3271.0" width="49.1" height="26.8" fill="#DF5020" stroke="#000" stroke-width="5.9"/>
<rect x="579.2" y="2919.7" width="49.1" height="22.8" fill="#00CCCC" stroke="#000" stroke-width="5.9"/>
<rect x="579.2" y="2942.5" width="49.1" height="164.2" fill="#E22D4B" stroke="#000" stroke-width="5.9"/>
<rect x="579.2" y="3106.7" width="49.1" height="159.3" fill="#FFC107" stroke="#000" stroke-width="5.9"/>
<rect x="579.2" y="3266.0" width="49.1" height="27.8" fill="#DF5020" stroke="#000" stroke-width="5.9"/>
<rect x="640.5" y="2923.2" width="49.1" height="15.3" fill="#00CCCC" stroke="#000" stroke-width="5.9"/>
<rect x="640.5" y="2938.5" width="49.1" height="7.0" fill="#AC2396" stroke="#000" stroke-width="5.9"/>
<rect x="640.5" y="2945.5" width="49.1" height="161.2" fill="#E22D4B" stroke="#000" stroke-width="5.9"/>
<rect x="640.5" y="3106.7" width="49.1" height="157.3" fill="#FFC107" stroke="#000" stroke-width="5.9"/>
<rect x="640.5" y="3264.0" width="49.1" height="27.8" fill="#DF5020" stroke="#000" stroke-width="5.9"/>
<rect x="701.7" y="2893.7" width="49.1" height="28.3" fill="#0072BD" stroke="#000" stroke-width="5.9"/>
<rect x="701.7" y="2922.0" width="49.1" height="22.0" fill="#AC2396" stroke="#000" stroke-width="5.9"/>
<rect x="701.7" y="2944.0" width="49.1" height="162.7" fill="#E22D4B" stroke="#000" stroke-width="5.9"/>
<rect x="701.7" y="3106.7" width="49.1" height="164.3" fill="#FFC107" stroke="#000" stroke-width="5.9"/>
<rect x="701.7" y="3271.0" width="49.1" height="39.0" fill="#47D494" stroke="#000" stroke-width="5.9"/>
<rect x="701.7" y="3310.0" width="49.1" height="9.3" fill="#9AAB05" stroke="#000" stroke-width="5.9"/>
<rect x="763.0" y="2889.7" width="49.1" height="18.3" fill="#00CCCC" stroke="#000" stroke-width="5.9"/>
<rect x="763.0" y="2908.0" width="49.1" height="38.0" fill="#AC2396" stroke="#000" stroke-width="5.9"/>
<rect x="763.0" y="2946.0" width="49.1" height="160.7" fill="#E22D4B" stroke="#000" stroke-width="5.9"/>
<rect x="763.0" y="3106.7" width="49.1" height="189.3" fill="#FFC107" stroke="#000" stroke-width="5.9"/>
<rect x="763.0" y="3296.0" width="49.1" height="27.8" fill="#DF5020" stroke="#000" stroke-width="5.9"/>
<rect x="824.2" y="2853.7" width="49.1" height="27.8" fill="#0072BD" stroke="#000" stroke-width="5.9"/>
<rect x="824.2" y="2881.5" width="49.1" height="53.5" fill="#AC2396" stroke="#000" stroke-width="5.9"/>
<rect x="824.2" y="2935.0" width="49.1" height="171.7" fill="#E22D4B" stroke="#000" stroke-width="5.9"/>
<rect x="824.2" y="3106.7" width="49.1" height="234.3" fill="#FFC107" stroke="#000" stroke-width="5.9"/>
<rect x="824.2" y="3341.0" width="49.1" height="19.3" fill="#9AAB05" stroke="#000" stroke-width="5.9"/>
<rect x="885.5" y="2822.7" width="49.1" height="28.3" fill="#0072BD" stroke="#000" stroke-width="5.9"/>
<rect x="885.5" y="2851.0" width="49.1" height="65.0" fill="#AC2396" stroke="#000" stroke-width="5.9"/>
<rect x="885.5" y="2916.0" width="49.1" height="190.7" fill="#E22D4B" stroke="#000" stroke-width="5.9"/>
<rect x="885.5" y="3106.7" width="49.1" height="255.3" fill="#FFC107" stroke="#000" stroke-width="5.9"/>
<rect x="885.5" y="3362.0" width="49.1" height="28.8" fill="#9AAB05" stroke="#000" stroke-width="5.9"/>
<rect x="946.7" y="2787.7" width="49.1" height="28.8" fill="#0072BD" stroke="#000" stroke-width="5.9"/>
<rect x="946.7" y="2816.5" width="49.1" height="73.5" fill="#AC2396" stroke="#000" stroke-width="5.9"/>
<rect x="946.7" y="2890.0" width="49.1" height="216.7" fill="#E22D4B" stroke="#000" stroke-width="5.9"/>
<rect x="946.7" y="3106.7" width="49.1" height="266.3" fill="#FFC107" stroke="#000" stroke-width="5.9"/>
<rect x="946.7" y="3373.0" width="49.1" height="39.0" fill="#47D494" stroke="#000" stroke-width="5.9"/>
<rect x="946.7" y="3412.0" width="49.1" height="13.3" fill="#9AAB05" stroke="#000" stroke-width="5.9"/>
<rect x="1007.9" y="2796.2" width="49.1" height="75.3" fill="#AC2396" stroke="#000" stroke-width="5.9"/>
<rect x="1007.9" y="2871.5" width="49.1" height="235.2" fill="#E22D4B" stroke="#000" stroke-width="5.9"/>
<rect x="1007.9" y="3106.7" width="49.1" height="253.8" fill="#FFC107" stroke="#000" stroke-width="5.9"/>
<rect x="1007.9" y="3360.5" width="49.1" height="17.0" fill="#DF5020" stroke="#000" stroke-width="5.9"/>
<rect x="1007.9" y="3377.5" width="49.1" height="39.8" fill="#47D494" stroke="#000" stroke-width="5.9"/>
<rect x="1069.2" y="2796.7" width="49.1" height="72.3" fill="#AC2396" stroke="#000" stroke-width="5.9"/>
<rect x="1069.2" y="2869.0" width="49.1" height="237.7" fill="#E22D4B" stroke="#000" stroke-width="5.9"/>
<rect x="1069.2" y="3106.7" width="49.1" height="246.3" fill="#FFC107" stroke="#000" stroke-width="5.9"/>
<rect x="1069.2" y="3353.0" width="49.1" height="24.5" fill="#DF5020" stroke="#000" stroke-width="5.9"/>
<rect x="1069.2" y="3377.5" width="49.1" height="39.8" fill="#47D494" stroke="#000" stroke-width="5.9"/>
<rect x="1130.4" y="2771.2" width="49.1" height="27.3" fill="#0072BD" stroke="#000" stroke-width="5.9"/>
<rect x="1130.4" y="2798.5" width="49.1" height="67.5" fill="#AC2396" stroke="#000" stroke-width="5.9"/>
<rect x="1130.4" y="2866.0" width="49.1" height="240.7" fill="#E22D4B" stroke="#000" stroke-width="5.9"/>
<rect x="1130.4" y="3106.7" width="49.1" height="257.8" fill="#FFC107" stroke="#000" stroke-width="5.9"/>
<rect x="1130.4" y="3364.5" width="49.1" height="39.5" fill="#47D494" stroke="#000" stroke-width="5.9"/>
<rect x="1130.4" y="3404.0" width="49.1" height="33.3" fill="#9AAB05" stroke="#000" stroke-width="5.9"/>
<rect x="1191.7" y="2801.2" width="49.1" height="57.3" fill="#AC2396" stroke="#000" stroke-width="5.9"/>
<rect x="1191.7" y="2858.5" width="49.1" height="248.2" fill="#E22D4B" stroke="#000" stroke-width="5.9"/>
<rect x="1191.7" y="3106.7" width="49.1" height="259.8" fill="#FFC107" stroke="#000" stroke-width="5.9"/>
<rect x="1191.7" y="3366.5" width="49.1" height="28.5" fill="#DF5020" stroke="#000" stroke-width="5.9"/>
<rect x="1191.7" y="3395.0" width="49.1" height="17.3" fill="#9AAB05" stroke="#000" stroke-width="5.9"/>
<rect x="1252.9" y="2811.7" width="49.1" height="42.3" fill="#AC2396" stroke="#000" stroke-width="5.9"/>
<rect x="1252.9" y="2854.0" width="49.1" height="252.7" fill="#E22D4B" stroke="#000" stroke-width="5.9"/>
<rect x="1252.9" y="3106.7" width="49.1" height="258.8" fill="#FFC107" stroke="#000" stroke-width="5.9"/>
<rect x="1252.9" y="3365.5" width="49.1" height="27.0" fill="#DF5020" stroke="#000" stroke-width="5.9"/>
<rect x="1252.9" y="3392.5" width="49.1" height="9.8" fill="#9AAB05" stroke="#000" stroke-width="5.9"/>
<rect x="1314.1" y="2822.2" width="49.1" height="5.8" fill="#0072BD" stroke="#000" stroke-width="5.9"/>
<rect x="1314.1" y="2828.0" width="49.1" height="27.0" fill="#AC2396" stroke="#000" stroke-width="5.9"/>
<rect x="1314.1" y="2855.0" width="49.1" height="251.7" fill="#E22D4B" stroke="#000" stroke-width="5.9"/>
<rect x="1314.1" y="3106.7" width="49.1" height="256.8" fill="#FFC107" stroke="#000" stroke-width="5.9"/>
<rect x="1314.1" y="3363.5" width="49.1" height="27.8" fill="#DF5020" stroke="#000" stroke-width="5.9"/>
<rect x="1375.4" y="2806.7" width="49.1" height="27.8" fill="#0072BD" stroke="#000" stroke-width="5.9"/>
<rect x="1375.4" y="2834.5" width="49.1" height="10.5" fill="#AC2396" stroke="#000" stroke-width="5.9"/>
<rect x="1375.4" y="2845.0" width="49.1" height="261.7" fill="#E22D4B" stroke="#000" stroke-width="5.9"/>
<rect x="1375.4" y="3106.7" width="49.1" height="239.3" fill="#FFC107" stroke="#000" stroke-width="5.9"/>
<rect x="1375.4" y="3346.0" width="49.1" height="39.0" fill="#47D494" stroke="#000" stroke-width="5.9"/>
<rect x="1375.4" y="3385.0" width="49.1" height="21.8" fill="#9AAB05" stroke="#000" stroke-width="5.9"/>
<rect x="1436.6" y="2840.7" width="49.1" height="22.3" fill="#00CCCC" stroke="#000" stroke-width="5.9"/>
<rect x="1436.6" y="2863.0" width="49.1" height="243.7" fill="#E22D4B" stroke="#000" stroke-width="5.9"/>
<rect x="1436.6" y="3106.7" width="49.1" height="239.3" fill="#FFC107" stroke="#000" stroke-width="5.9"/>
<rect x="1436.6" y="3346.0" width="49.1" height="27.3" fill="#DF5020" stroke="#000" stroke-width="5.9"/>
<rect x="1497.9" y="2855.7" width="49.1" height="23.8" fill="#0072BD" stroke="#000" stroke-width="5.9"/>
<rect x="1497.9" y="2879.5" width="49.1" height="227.2" fill="#E22D4B" stroke="#000" stroke-width="5.9"/>
<rect x="1497.9" y="3106.7" width="49.1" height="240.8" fill="#FFC107" stroke="#000" stroke-width="5.9"/>
<rect x="1497.9" y="3347.5" width="49.1" height="10.8" fill="#9AAB05" stroke="#000" stroke-width="5.9"/>
<rect x="1559.1" y="2866.7" width="49.1" height="5.8" fill="#00CCCC" stroke="#000" stroke-width="5.9"/>
<rect x="1559.1" y="2872.5" width="49.1" height="27.0" fill="#0072BD" stroke="#000" stroke-width="5.9"/>
<rect x="1559.1" y="2899.5" width="49.1" height="207.2" fill="#E22D4B" stroke="#000" stroke-width="5.9"/>
<rect x="1559.1" y="3106.7" width="49.1" height="240.1" fill="#FFC107" stroke="#000" stroke-width="5.9"/>
<rect x="1620.3" y="2872.7" width="49.1" height="38.8" fill="#00CCCC" stroke="#000" stroke-width="5.9"/>
<rect x="1620.3" y="2911.5" width="49.1" height="27.0" fill="#0072BD" stroke="#000" stroke-width="5.9"/>
<rect x="1620.3" y="2938.5" width="49.1" height="168.2" fill="#E22D4B" stroke="#000" stroke-width="5.9"/>
<rect x="1620.3" y="3106.7" width="49.1" height="234.6" fill="#FFC107" stroke="#000" stroke-width="5.9"/>
<rect x="1681.6" y="2884.7" width="49.1" height="13.8" fill="#00A69C" stroke="#000" stroke-width="5.9"/>
<rect x="1681.6" y="2898.5" width="49.1" height="39.5" fill="#00CCCC" stroke="#000" stroke-width="5.9"/>
<rect x="1681.6" y="2938.0" width="49.1" height="27.5" fill="#0072BD" stroke="#000" stroke-width="5.9"/>
<rect x="1681.6" y="2965.5" width="49.1" height="141.2" fill="#E22D4B" stroke="#000" stroke-width="5.9"/>
<rect x="1681.6" y="3106.7" width="49.1" height="222.6" fill="#FFC107" stroke="#000" stroke-width="5.9"/>
<rect x="224" y="2714" width="1555.2" height="785" fill="none" stroke="#222222" stroke-width="5.8" stroke-linejoin="round"/>
<path d="M236.4 2714v10M236.4 3499v-10M542.6 2714v10M542.6 3499v-10M848.8 2714v10M848.8 3499v-10M1155.0 2714v10M1155.0 3499v-10M1461.2 2714v10M1461.2 3499v-10M1767.4 2714v10M1767.4 3499v-10M224 2792.9h15.7M224 2871.3h15.7M224 2949.8h15.7M224 3028.2h15.7M224 3185.2h15.7M224 3263.6h15.7M224 3342.1h15.7M224 3420.5h15.7M1779.2 2792.9h-15.7M1779.2 2871.3h-15.7M1779.2 2949.8h-15.7M1779.2 3028.2h-15.7M1779.2 3185.2h-15.7M1779.2 3263.6h-15.7M1779.2 3342.1h-15.7M1779.2 3420.5h-15.7" stroke="#222222" stroke-width="5.8" stroke-linecap="round" fill="none"/>
<rect x="224.75" y="2499.85" width="143.10" height="28.10" fill="#E22D4B" stroke="#000" stroke-width="5.9" stroke-linejoin="round"/>
<rect x="485.75" y="2499.85" width="143.10" height="28.10" fill="#AC2396" stroke="#000" stroke-width="5.9" stroke-linejoin="round"/>
<rect x="745.25" y="2499.85" width="143.10" height="28.10" fill="#00CCCC" stroke="#000" stroke-width="5.9" stroke-linejoin="round"/>
<rect x="224.75" y="2553.35" width="143.10" height="28.10" fill="#0072BD" stroke="#000" stroke-width="5.9" stroke-linejoin="round"/>
<rect x="645.75" y="2553.35" width="143.10" height="28.10" fill="#00A69C" stroke="#000" stroke-width="5.9" stroke-linejoin="round"/>
<rect x="224.75" y="2608.85" width="143.10" height="28.10" fill="#FFC107" stroke="#000" stroke-width="5.9" stroke-linejoin="round"/>
<rect x="504.25" y="2604.85" width="143.10" height="28.10" fill="#DF5020" stroke="#000" stroke-width="5.9" stroke-linejoin="round"/>
<rect x="878.25" y="2604.85" width="143.10" height="28.10" fill="#9AAB05" stroke="#000" stroke-width="5.9" stroke-linejoin="round"/>
<rect x="224.75" y="2665.85" width="143.10" height="28.10" fill="#47D494" stroke="#000" stroke-width="5.9" stroke-linejoin="round"/>
<text x="393.0" y="2531.0" font-size="50" fill="#000" text-anchor="start">WT</text>
<text x="656.0" y="2531.0" font-size="50" fill="#000" text-anchor="start">PV</text>
<text x="905.0" y="2531.0" font-size="50" fill="#000" text-anchor="start">Cluster A purchases electricity from B</text>
<text x="378.0" y="2584.0" font-size="50" fill="#000" text-anchor="start">ES discharge</text>
<text x="809.5" y="2584.0" font-size="50" fill="#000" text-anchor="start" textLength="515.9" lengthAdjust="spacing">Cluster C power purchase</text>
<text x="387.0" y="2637.0" font-size="50" fill="#000" text-anchor="start">Load</text>
<text x="663.0" y="2635.0" font-size="50" fill="#000" text-anchor="start">ES charge</text>
<text x="1042.5" y="2635.0" font-size="50" fill="#000" text-anchor="start" textLength="526.0" lengthAdjust="spacing">Cluster C Electricity Sales</text>
<text x="387.5" y="2696.0" font-size="50" fill="#000" text-anchor="start" textLength="599.2" lengthAdjust="spacing">Cluster C sells electricity to B</text>
<text x="156.3" y="2734.7" font-size="65" fill="#444444" text-anchor="middle">500</text>
<text x="156.3" y="2813.2" font-size="65" fill="#444444" text-anchor="middle">400</text>
<text x="156.3" y="2891.6" font-size="65" fill="#444444" text-anchor="middle">300</text>
<text x="156.3" y="2970.1" font-size="65" fill="#444444" text-anchor="middle">200</text>
<text x="156.3" y="3048.5" font-size="65" fill="#444444" text-anchor="middle">100</text>
<text x="156.3" y="3127.0" font-size="65" fill="#444444" text-anchor="middle">0</text>
<text x="156.3" y="3205.5" font-size="65" fill="#444444" text-anchor="middle">-100</text>
<text x="156.3" y="3283.9" font-size="65" fill="#444444" text-anchor="middle">-200</text>
<text x="156.3" y="3362.4" font-size="65" fill="#444444" text-anchor="middle">-300</text>
<text x="156.3" y="3440.8" font-size="65" fill="#444444" text-anchor="middle">-400</text>
<text x="156.3" y="3519.3" font-size="65" fill="#444444" text-anchor="middle">-500</text>
<text x="240.0" y="3562.5" font-size="64" fill="#444444" text-anchor="middle">0</text>
<text x="546.8" y="3562.5" font-size="64" fill="#444444" text-anchor="middle">5</text>
<text x="852.4" y="3562.5" font-size="64" fill="#444444" text-anchor="middle" textLength="62.0" lengthAdjust="spacing">10</text>
<text x="1157.6" y="3562.5" font-size="64" fill="#444444" text-anchor="middle" textLength="62.0" lengthAdjust="spacing">15</text>
<text x="1459.8" y="3562.5" font-size="64" fill="#444444" text-anchor="middle" textLength="62.0" lengthAdjust="spacing">20</text>
<text x="1765.0" y="3562.5" font-size="64" fill="#444444" text-anchor="middle" textLength="62.0" lengthAdjust="spacing">25</text>
<text x="999.0" y="3631.0" font-size="65" fill="#444444" text-anchor="middle" textLength="178.0" lengthAdjust="spacing">Time/h</text>
<text transform="translate(67.7,3106.5) rotate(-90)" font-size="65" fill="#444444" text-anchor="middle" textLength="523" lengthAdjust="spacing" xml:space="preserve">Cluster C Power/kW</text>
<text x="916.7" y="3747.5" font-size="79" fill="#000" stroke="#000" stroke-width="0.4" text-anchor="middle" textLength="430" lengthAdjust="spacingAndGlyphs">(<tspan font-weight="bold">c</tspan>) Cluster C</text>
</svg>
</body></html>
